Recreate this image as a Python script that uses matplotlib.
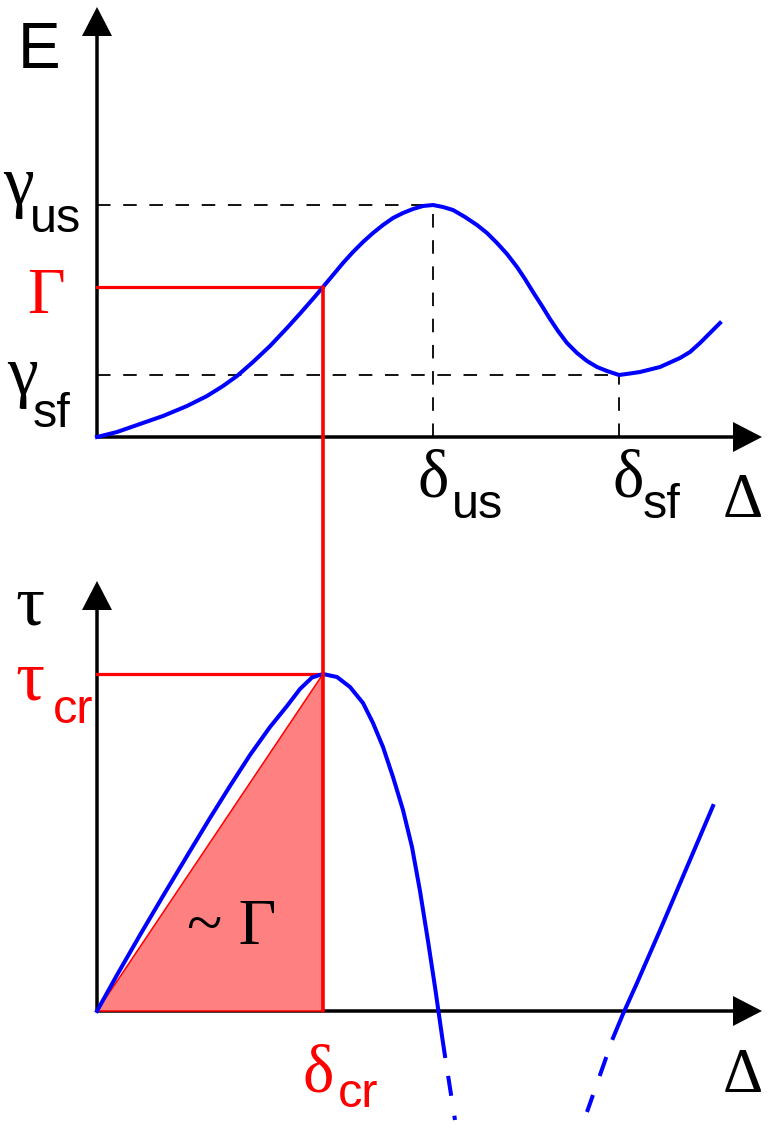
import matplotlib
matplotlib.use('Agg')
from matplotlib import pyplot as plt
from matplotlib.patches import Polygon, ConnectionPatch

# energy curve E(Delta)
top_delta = [0.00, 0.20, 0.43, 0.66, 0.90, 1.10, 1.26, 1.40, 1.56, 1.73, 1.90, 2.04,
             2.18, 2.26, 2.36, 2.46, 2.56, 2.66, 2.76, 2.86, 2.96, 3.06, 3.16, 3.26,
             3.36, 3.46, 3.56, 3.68, 3.80, 3.90, 4.00, 4.10, 4.20, 4.28, 4.36, 4.45,
             4.53, 4.61, 4.70, 4.80, 4.90, 5.00, 5.10, 5.22, 5.33, 5.43, 5.63, 5.83,
             5.93, 6.03, 6.13, 6.23]
top_energy = [0.00, 0.05, 0.13, 0.21, 0.31, 0.41, 0.51, 0.61, 0.75, 0.91, 1.09, 1.245,
              1.405, 1.50, 1.62, 1.74, 1.85, 1.95, 2.04, 2.12, 2.19, 2.24, 2.28, 2.31,
              2.32, 2.30, 2.27, 2.20, 2.12, 2.04, 1.94, 1.83, 1.70, 1.58, 1.45, 1.31,
              1.18, 1.06, 0.94, 0.84, 0.76, 0.70, 0.66, 0.62, 0.635, 0.65, 0.70, 0.79,
              0.85, 0.94, 1.04, 1.14]

# stress curve tau(Delta), left branch
bot_delta = [0.00, 0.20, 0.43, 0.66, 0.90, 1.13, 1.33, 1.53, 1.73, 1.90, 2.03, 2.15,
             2.26, 2.40, 2.53, 2.66, 2.76, 2.86, 2.96, 3.06, 3.15, 3.23, 3.31, 3.38,
             3.42, 3.45, 3.48]
bot_tau = [0.00, 0.36, 0.76, 1.15, 1.55, 1.93, 2.25, 2.56, 2.84, 3.05, 3.22, 3.335,
           3.37, 3.34, 3.24, 3.08, 2.88, 2.64, 2.34, 2.01, 1.64, 1.20, 0.70, 0.24,
           -0.04, -0.25, -0.45]
bot_delta_dash = [3.48, 3.58]
bot_tau_dash = [-0.45, -1.09]

# right branch
right_delta = [6.16, 5.90, 5.64, 5.40, 5.26, 5.16]
right_tau = [2.05, 1.44, 0.83, 0.28, -0.03, -0.27]
right_delta_dash = [5.16, 4.90]
right_tau_dash = [-0.27, -1.01]

gamma_us = 2.32
gamma_sf = 0.62
Gamma = 1.50
delta_us = 3.36
delta_sf = 5.22
delta_cr = 2.26
tau_cr = 3.37

SERIF = 'Liberation Serif'
SANS = 'Liberation Sans'
blue = '#0000FF'
red = '#FF0000'

fig = plt.figure(figsize=(7.7, 11.35), dpi=100)
ax_top = fig.add_axes([0, 575 / 1135, 1, 560 / 1135])
ax_bot = fig.add_axes([0, 0, 1, 575 / 1135])
ax_top.set_xlim(-0.97, 6.73)
ax_top.set_ylim(-1.23, 4.37)
ax_bot.set_xlim(-0.97, 6.73)
ax_bot.set_ylim(-1.24, 4.51)
for ax in (ax_top, ax_bot):
    ax.axis('off')
    ax.arrow(0, 0, 0, 4.30, width=0.035, head_width=0.30, head_length=0.29,
             length_includes_head=True, fc='k', ec='none', zorder=2)
    ax.arrow(0, 0, 6.65, 0, width=0.035, head_width=0.30, head_length=0.29,
             length_includes_head=True, fc='k', ec='none', zorder=2)

# --- top panel
dash_k = dict(color='k', lw=1.3, linestyle=(0, (7.5, 7.0)), zorder=1)
ax_top.plot([0, delta_us], [gamma_us, gamma_us], **dash_k)
ax_top.plot([delta_us, delta_us], [0, gamma_us], **dash_k)
ax_top.plot([0, delta_sf], [gamma_sf, gamma_sf], **dash_k)
ax_top.plot([delta_sf, delta_sf], [0, gamma_sf], **dash_k)
ax_top.plot([0, delta_cr], [Gamma, Gamma], color=red, lw=2.3, zorder=3)
ax_top.plot(top_delta, top_energy, color=blue, lw=2.9, zorder=5,
            solid_joinstyle='round')

# red line running down into the lower panel
con = ConnectionPatch(xyA=(delta_cr, Gamma), coordsA='data', axesA=ax_top,
                      xyB=(delta_cr, 0), coordsB='data', axesB=ax_bot,
                      color=red, lw=2.6, zorder=3)
fig.add_artist(con)

ax_top.text(-0.79, 3.69, 'E', family=SANS, fontsize=46)
ax_top.text(-0.94, 2.33, 'γ', family=SERIF, fontsize=50)
ax_top.text(-0.67, 2.05, 'us', family=SANS, fontsize=35)
ax_top.text(-0.70, 1.24, 'Γ', family=SERIF, fontsize=47, color=red)
ax_top.text(-0.90, 0.43, 'γ', family=SERIF, fontsize=50)
ax_top.text(-0.64, 0.10, 'sf', family=SANS, fontsize=35)
ax_top.text(3.20, -0.60, 'δ', family=SERIF, fontsize=48)
ax_top.text(3.55, -0.81, 'us', family=SANS, fontsize=35)
ax_top.text(5.16, -0.60, 'δ', family=SERIF, fontsize=48)
ax_top.text(5.46, -0.81, 'sf', family=SANS, fontsize=35)
ax_top.text(6.26, -0.80, 'Δ', family=SERIF, fontsize=45)

# --- bottom panel
tri = Polygon([(0, 0), (delta_cr, tau_cr), (delta_cr, 0)], closed=True,
              facecolor='#FF8080', edgecolor=red, lw=1.1, zorder=3)
ax_bot.add_patch(tri)
ax_bot.plot([0, delta_cr], [tau_cr, tau_cr], color=red, lw=2.3, zorder=3)
ax_bot.plot(bot_delta, bot_tau, color=blue, lw=2.9, zorder=5,
            solid_joinstyle='round')
ax_bot.plot(right_delta, right_tau, color=blue, lw=2.9, zorder=5,
            solid_joinstyle='round')
dash_b = dict(color=blue, lw=2.9, linestyle=(5.0, (5.0, 5.0)), zorder=5)
ax_bot.plot(bot_delta_dash, bot_tau_dash, **dash_b)
ax_bot.plot(right_delta_dash, right_tau_dash, **dash_b)

ax_bot.text(-0.82, 3.86, 'τ', family=SERIF, fontsize=52)
ax_bot.text(-0.82, 3.11, 'τ', family=SERIF, fontsize=52, color=red)
ax_bot.text(-0.44, 2.88, 'cr', family=SANS, fontsize=35, color=red)
ax_bot.text(2.06, -0.81, 'δ', family=SERIF, fontsize=48, color=red)
ax_bot.text(2.41, -0.96, 'cr', family=SANS, fontsize=35, color=red)
ax_bot.text(0.90, 0.67, '~ Γ', family=SERIF, fontsize=47, zorder=6)
ax_bot.text(6.26, -0.81, 'Δ', family=SERIF, fontsize=45)

fig.savefig('out.png', dpi=100)
